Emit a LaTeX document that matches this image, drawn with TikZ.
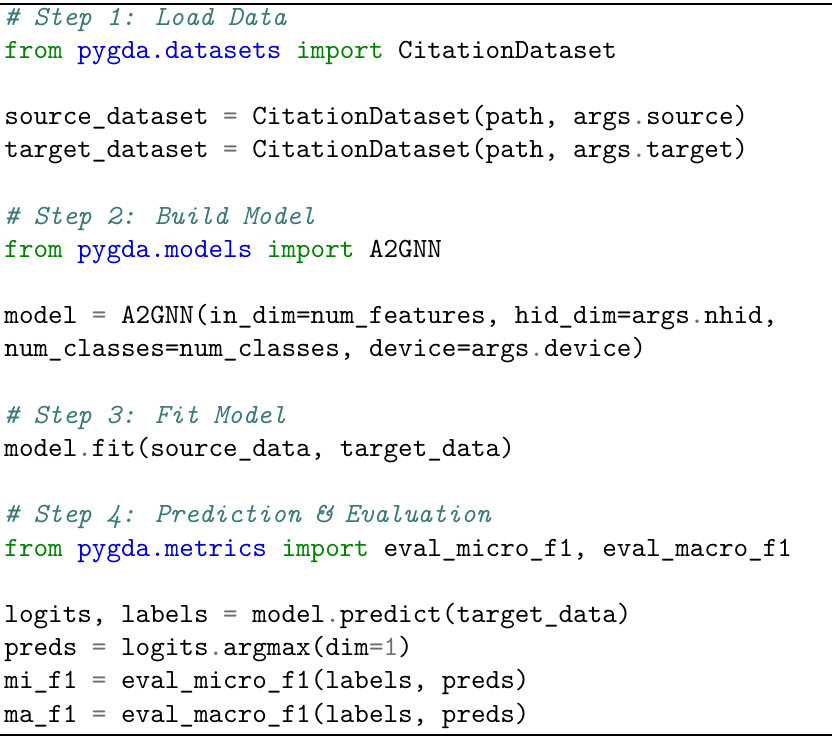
\documentclass[tikz,border=0pt]{standalone}
\definecolor{kwgreen}{RGB}{0,128,0}
\definecolor{mdblue}{RGB}{0,0,205}
\definecolor{opgray}{RGB}{110,110,110}
\definecolor{cmteal}{RGB}{60,120,120}
\newcommand{\Kw}[1]{\textcolor{kwgreen}{#1}}
\newcommand{\Md}[1]{\textcolor{mdblue}{#1}}
\newcommand{\Op}[1]{\textcolor{opgray}{#1}}
\newcommand{\Cm}[1]{\textcolor{cmteal}{\itshape #1}}
\begin{document}
\begin{tikzpicture}[x=1pt,y=1pt,
  codeline/.style={anchor=base west,inner sep=0pt,font=\ttfamily\fontsize{10}{12}\selectfont},
  rulestyle/.style={line width=0.7pt}]
\useasboundingbox (0,0) rectangle (299.5,-266);
\coordinate (rtl) at (0,-1.4); \coordinate (rtr) at (299.5,-1.4);
\coordinate (rbl) at (0,-264.6); \coordinate (rbr) at (299.5,-264.6);
\draw[rulestyle] (rtl) -- (rtr);
\draw[rulestyle] (rbl) -- (rbr);
\def\lh{11.95}
\node[codeline] (l1) at (1.4,-9) {\Cm{\# Step 1: Load Data}};
\node[codeline] (l2) at (1.4,-9-1*\lh) {\Kw{from} \Md{pygda.datasets} \Kw{import} CitationDataset};
\node[codeline] (l4) at (1.4,-9-3*\lh) {source\_dataset \Op{=} CitationDataset(path, args\Op{.}source)};
\node[codeline] (l5) at (1.4,-9-4*\lh) {target\_dataset \Op{=} CitationDataset(path, args\Op{.}target)};
\node[codeline] (l7) at (1.4,-9-6*\lh) {\Cm{\# Step 2: Build Model}};
\node[codeline] (l8) at (1.4,-9-7*\lh) {\Kw{from} \Md{pygda.models} \Kw{import} A2GNN};
\node[codeline] (l10) at (1.4,-9-9*\lh) {model \Op{=} A2GNN(in\_dim=num\_features, hid\_dim=args\Op{.}nhid,};
\node[codeline] (l11) at (1.4,-9-10*\lh) {num\_classes=num\_classes, device=args\Op{.}device)};
\node[codeline] (l13) at (1.4,-9-12*\lh) {\Cm{\# Step 3: Fit Model}};
\node[codeline] (l14) at (1.4,-9-13*\lh) {model\Op{.}fit(source\_data, target\_data)};
\node[codeline] (l16) at (1.4,-9-15*\lh) {\Cm{\# Step 4: Prediction \& Evaluation}};
\node[codeline] (l17) at (1.4,-9-16*\lh) {\Kw{from} \Md{pygda.metrics} \Kw{import} eval\_micro\_f1, eval\_macro\_f1};
\node[codeline] (l19) at (1.4,-9-18*\lh) {logits, labels \Op{=} model\Op{.}predict(target\_data)};
\node[codeline] (l20) at (1.4,-9-19*\lh) {preds \Op{=} logits\Op{.}argmax(dim\Op{=1})};
\node[codeline] (l21) at (1.4,-9-20*\lh) {mi\_f1 \Op{=} eval\_micro\_f1(labels, preds)};
\node[codeline] (l22) at (1.4,-9-21*\lh) {ma\_f1 \Op{=} eval\_macro\_f1(labels, preds)};
\end{tikzpicture}
\end{document}
